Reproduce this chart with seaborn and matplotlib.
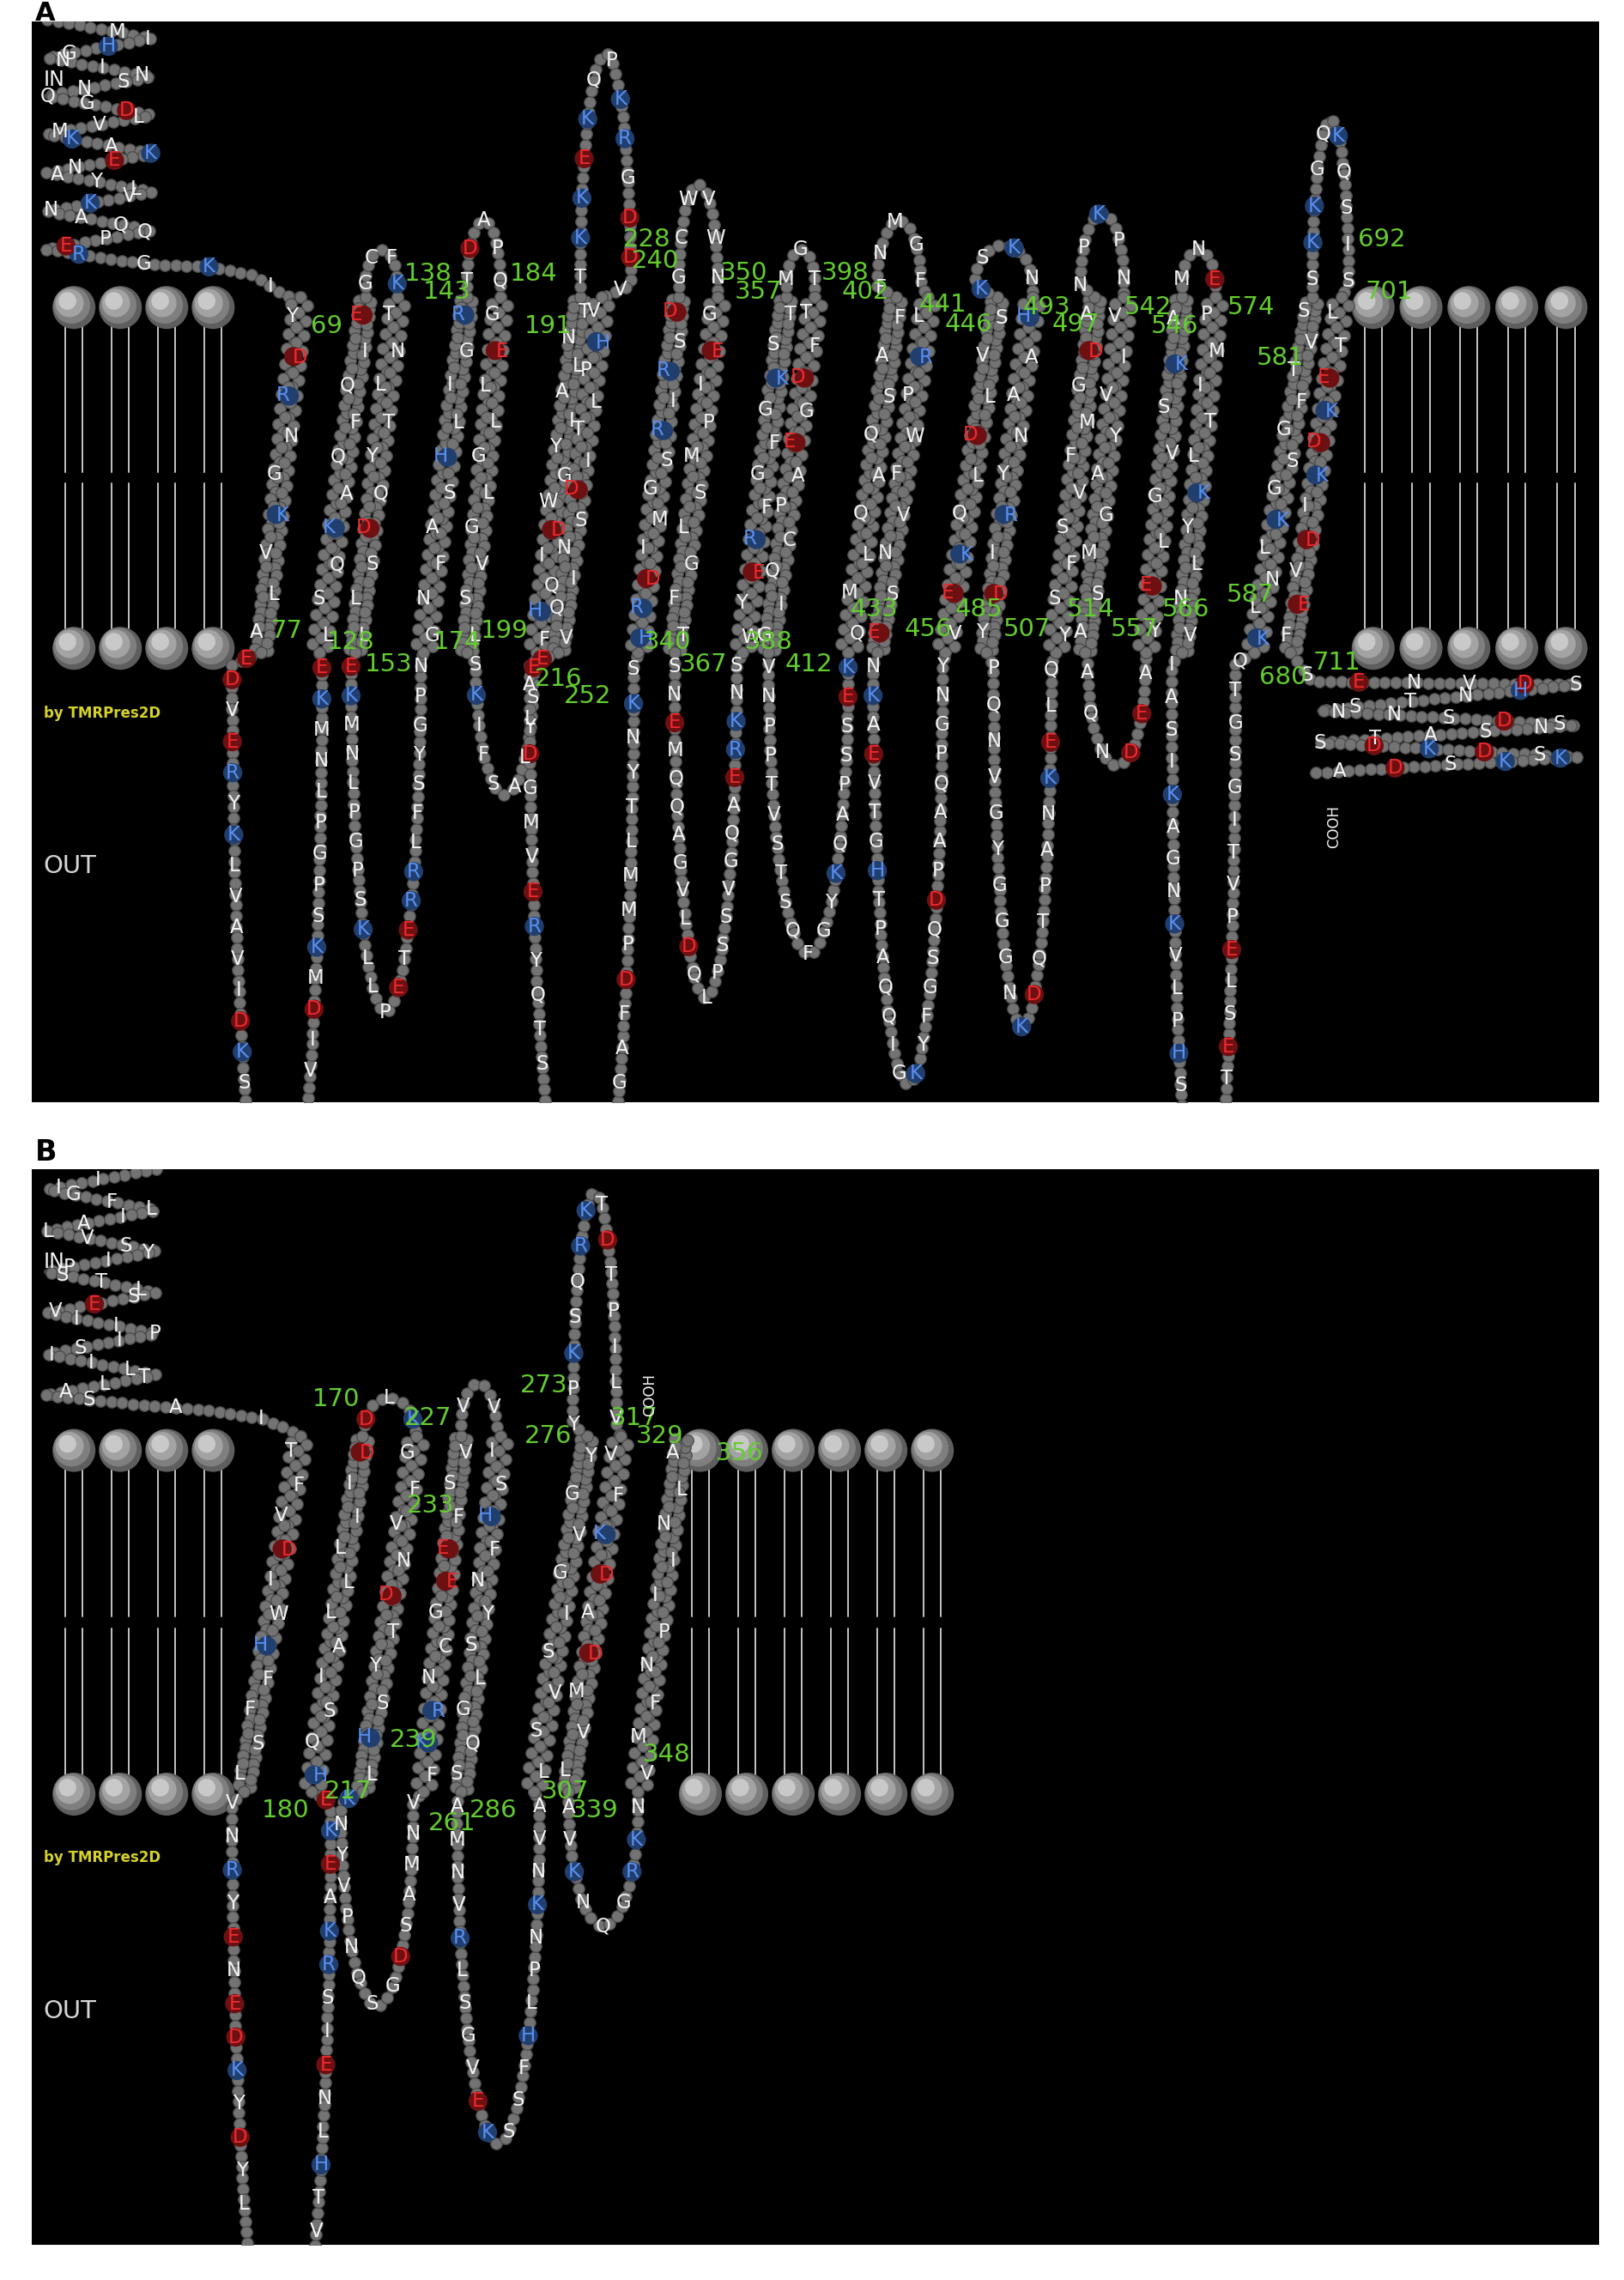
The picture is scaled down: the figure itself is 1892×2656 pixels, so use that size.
import numpy as np
import pandas as pd
import matplotlib
matplotlib.use("Agg")
import matplotlib.pyplot as plt
import seaborn as sns

sns.set_theme(style="dark")
plt.rcParams['font.family'] = ['DejaVu Sans']

# ======================= DATA =======================
# ---- Panel A: transmembrane boundaries (chain order: start, end of each TM)
A_tm_start = [69, 128, 143, 174, 191, 216, 240, 340, 357, 388, 402, 433, 446, 485, 497, 514, 546, 566, 581, 680, 701]
A_tm_end   = [77, 138, 153, 184, 199, 228, 252, 350, 367, 398, 412, 441, 456, 493, 507, 542, 557, 574, 587, 692, 711]
# residue letters (chain direction)
A_nterm = "SYILMIHGNINSNQGDLVMKAKENAYLVKNAQQPE"
A_link = "RGKI"
A_helix = ["YDRNGKVLA", "LSQKAQFQIE", "TNLTYQDSLL", "GNFASHLIGR", "GELLGLGVSL",
           "FHQIDWGYIALNT", "VHPLTIDSNIQV", "HRDIMGSRIRSD", "GEIPMSLGFT", "WYERFGFGKST",
           "TFDGEAPCQIG", "QMLQAQSAF", "LRPWFVNSE", "VEKQLDLVS", "HAANYRIDY",
           "YSFSVFMGDA", "VIVYAGMSA", "YELGVSKA", "PMITLKYLNV", "KLNLKGSGFTVS", "LTEKDKIDVEF"]
A_in_loop = ["GCFK", "TDAPQ", "TKKEKQPKRGDDV", "GCWVWN", "MGT", "FNMGF", "KSKN", "NPKPN", "MNE", "SKKGQKQSIS"]
A_out_loop = ["EDVERYKLVAVIDKSNQTLPEGSAKTFVIDMKSPGPLNMKE",
              "EKMNLPGPSKLLPETERRLFSYGPN",
              "SKIFSALYSE",
              "EALDGMVERYQTSGNLPKEASVTDGAFDPMMLTYNKS",
              "SNEMQQAGVLDQLPSSVGQAERKNS",
              "VNPPTVSTSQFGYKQAPSSEK",
              "NKAEVTGHTPAQQIGKYFGSQDPAAQPGNY",
              "PQNVGYGGGNKDQTPANKELQ",
              "AQNDEA",
              "IASIKAGNKVLPHSTGQNKEAVSLPTESLEPVTIGSGTQ"]
A_cterm = "SENVDSHNTSNNSDSNSATSDKDSKKSDA"

# ---- Panel B
B_tm_start = [170, 217, 233, 261, 276, 307, 329, 348]
B_tm_end   = [180, 227, 239, 273, 286, 317, 339, 356]
B_nterm = "IIIGFLIALVSYIPSTLSEVIIPISIILTLA"
B_link = "SAI"
B_helix = ["TFVDIWHFFSL", "HQSIALLLIID", "GFVNDTYSHL", "FKRNCGEEFSV",
           "ISHFNYSLGQS", "LSVSIGVGY", "VFKDADMVL", "VMFNPIINLA"]
B_in_loop = ["DLK", "VV", "YPKSQRKTDTPILV"]
B_out_loop = ["VNRYENEDKYDYLSGTNPKQESLAVTHLNEISRKAEKE",
              "KNYVPNQSGDSAMNV",
              "AMNVRLSGVEKSSFHLPNKNVA",
              "AVKNQGRKN"]

# ======================= LAYOUT =======================
W, H = 1120.0, 1572.0
A_xt = [207, 252, 274, 322, 345, 400, 415, 468, 495, 542, 562, 618, 640, 688, 712, 755, 775, 815, 838, 905, 925]
A_xb = [180, 220, 245, 292, 322, 370, 385, 440, 465, 512, 530, 585, 605, 652, 680, 728, 748, 790, 815, 865, 890]
A_ytop, A_ybot = 205, 450
A_in_geom = [(252, 274, 25), (322, 345, 45), (400, 435, 160), (468, 495, 70), (542, 562, 25),
             (605, 635, 45), (672, 712, 28), (745, 775, 50), (815, 838, 25), (905, 930, 115)]
A_out_geom = [(160, 222, 420), (242, 290, 240), (328, 368, 90), (365, 437, 420), (465, 508, 230),
              (530, 585, 200), (602, 650, 290), (685, 725, 250), (750, 790, 70), (808, 852, 420)]
A_start_lab = [(225, 225), (242, 443), (308, 201), (315, 443), (378, 225), (385, 468), (452, 180),
               (460, 443), (523, 201), (530, 443), (597, 201), (603, 420), (668, 224), (675, 420),
               (742, 224), (752, 420), (810, 225), (818, 420), (883, 247), (885, 467), (958, 201)]
A_end_lab = [(198, 435), (295, 189), (268, 458), (368, 189), (348, 435), (446, 165), (405, 480),
             (513, 188), (485, 458), (583, 188), (558, 458), (650, 210), (640, 434), (722, 212),
             (708, 434), (792, 212), (782, 434), (863, 212), (862, 410), (953, 165), (922, 457)]

B_xt = [207, 250, 287, 318, 345, 405, 428, 470]
B_xb = [168, 215, 250, 292, 318, 368, 392, 440]
B_ytop, B_ybot = 990, 1235
B_in_geom = [(252, 285, 18), (318, 342, 28), (395, 425, 160)]
B_out_geom = [(160, 228, 420), (235, 285, 140), (315, 372, 235), (392, 440, 85)]
B_start_lab = [(232, 965), (240, 1235), (297, 1038), (312, 1257), (378, 990), (390, 1235), (455, 990), (460, 1210)]
B_end_lab = [(197, 1248), (295, 978), (285, 1200), (375, 955), (340, 1248), (437, 978), (410, 1248), (510, 1002)]

RED, BLUE, WHITE = '#ee2a2e', '#5a8ff0', '#f4f4f4'
DRED, DBLUE = '#6e1012', '#213f6e'
GREEN = '#63cc2f'


def rescolor(c):
    if c in 'DE':
        return RED
    if c in 'KRH':
        return BLUE
    return WHITE


def arch(p0, p1, h, n=60):
    (xs, ys), (xe, ye) = p0, p1
    t = np.linspace(0, 1, n)
    xm = 0.5 * (xs + xe)
    x = xm + (xs - xm) * np.cos(np.pi * t)
    y = ys + (ye - ys) * t - h * np.sin(np.pi * t)
    return list(zip(x, y))


def zigzag(xa, xb, y0, y1, n):
    ys = np.linspace(y0, y1, n)
    xs = [xa if i % 2 == 0 else xb for i in range(n)]
    return list(zip(xs, ys))


def build(xt, xb, ytop, ybot, helix, in_geom, out_geom, in_seq, out_seq):
    segs = []
    nh = len(xt)
    for i in range(nh):
        down = (i % 2 == 0)
        top, bot = (xt[i], ytop), (xb[i], ybot)
        segs.append(([top, bot] if down else [bot, top], helix[i], 'helix'))
        if i < nh - 1:
            if down:
                k = i // 2
                xl, xr, d = out_geom[k]
                pts = [bot] + arch((xl, ybot + 8), (xr, ybot + 8), -d) + [(xb[i + 1], ybot)]
                segs.append((pts, out_seq[k], 'coil'))
            else:
                k = (i - 1) // 2
                xl, xr, h = in_geom[k]
                pts = [top] + arch((xl, ytop - 8), (xr, ytop - 8), h) + [(xt[i + 1], ytop)]
                segs.append((pts, in_seq[k], 'coil'))
    return segs


def sample(p, s, ss):
    x = np.interp(ss, s, p[:, 0])
    y = np.interp(ss, s, p[:, 1])
    a = np.clip(ss + 1.0, 0, s[-1]); b = np.clip(ss - 1.0, 0, s[-1])
    tx = np.interp(a, s, p[:, 0]) - np.interp(b, s, p[:, 0])
    ty = np.interp(a, s, p[:, 1]) - np.interp(b, s, p[:, 1])
    nrm = np.hypot(tx, ty) + 1e-9
    return x, y, -ty / nrm, tx / nrm


def draw_segments(ax, segs, ylo, yhi):
    dots, hl = [], []
    for pts, seq, kind in segs:
        p = np.asarray(pts, float)
        d = np.hypot(np.diff(p[:, 0]), np.diff(p[:, 1]))
        s = np.concatenate([[0], np.cumsum(d)])
        L = s[-1]
        if kind == 'helix':
            ss = np.arange(0, L + 0.01, 5.2)
            x, y, nx, ny = sample(p, s, ss)
            off = 5.5 * np.sin(2 * np.pi * ss / 21.0)
            for sg in (1, -1):
                dots.append(pd.DataFrame({'x': x + sg * off * nx, 'y': y + sg * off * ny}))
        else:
            frac_pos = sum(c in 'KRH' for c in seq) / max(len(seq), 1)
            lc = '#2a4c7a' if frac_pos >= 0.3 else '#4a4a4a'
            ax.plot(p[:, 0], p[:, 1], color=lc, lw=4.5, solid_capstyle='round', zorder=2, alpha=0.9)
            ss = np.arange(0, L + 0.01, 7.5)
            x, y, nx, ny = sample(p, s, ss)
            dots.append(pd.DataFrame({'x': x, 'y': y}))
        n = len(seq)
        sl = (np.arange(n) + 0.5) * L / n
        x, y, nx, ny = sample(p, s, sl)
        for j, c in enumerate(seq):
            o = (4.5 if j % 2 == 0 else -4.5) if kind == 'helix' else 0.0
            xx, yy = x[j] + o * nx[j], y[j] + o * ny[j]
            if yy < ylo + 6 or yy > yhi - 6:
                continue
            col = rescolor(c)
            if col != WHITE:
                hl.append((x[j], y[j], DRED if col == RED else DBLUE))
            ax.text(xx, yy, c, color=col, fontsize=16.5, ha='center', va='center',
                    zorder=6, clip_on=True)
    df = pd.concat(dots, ignore_index=True)
    sns.scatterplot(data=df, x='x', y='y', s=95, color='#737373', edgecolor='#4a4a4a',
                    linewidth=0.9, legend=False, ax=ax, zorder=3)
    if hl:
        h = pd.DataFrame(hl, columns=['x', 'y', 'c'])
        for c, g in h.groupby('c'):
            sns.scatterplot(data=g, x='x', y='y', s=260, color=c, edgecolor='none',
                            legend=False, ax=ax, zorder=4)


def draw_membrane(ax, xs, ytop, ybot):
    ymid = 0.5 * (ytop + ybot)
    for x in xs:
        for dx in (-6, 6):
            ax.plot([x + dx, x + dx], [ytop + 12, ymid - 4], color='#c4c4c4', lw=1.4, zorder=1)
            ax.plot([x + dx, x + dx], [ymid + 4, ybot - 12], color='#c4c4c4', lw=1.4, zorder=1)
    bx = np.array(list(xs) * 2, float)
    by = np.array([ytop] * len(xs) + [ybot] * len(xs), float)
    layers = [(0, 1300, '#5e5e5e'), (1.5, 950, '#7f7f7f'), (3.0, 560, '#a3a3a3'), (4.5, 220, '#c9c9c9')]
    for off, sz, col in layers:
        sns.scatterplot(x=bx - off, y=by - off, s=sz, color=col, edgecolor='none',
                        legend=False, ax=ax, zorder=1.5)


def add_panel(x0, y0, x1, y1):
    ax = fig.add_axes([x0 / W, 1 - y1 / H, (x1 - x0) / W, (y1 - y0) / H])
    ax.set_facecolor('black')
    ax.set_xticks([]); ax.set_yticks([])
    for sp in ax.spines.values():
        sp.set_visible(False)
    ax.grid(False)
    return ax


def finish(ax, x0, y0, x1, y1):
    ax.set_xlabel(''); ax.set_ylabel('')
    ax.set_xticks([]); ax.set_yticks([])
    ax.set_xlim(x0, x1); ax.set_ylim(y1, y0)


fig = plt.figure(figsize=(18.92, 26.56), dpi=100)
fig.patch.set_facecolor('white')

# ----------------------------- Panel A -----------------------------
axA = add_panel(22, 15, 1103, 760)
draw_membrane(axA, [51, 83, 115, 147], 212, 447)
draw_membrane(axA, [947, 980, 1013, 1046, 1080], 212, 447)
segA = [(zigzag(105, 32, 0, 172, 14), A_nterm, 'coil'),
        ([(32, 172), (100, 182), (145, 184), (175, 190), (196, 204), (207, A_ytop)], A_link, 'coil')]
segA += build(A_xt, A_xb, A_ytop, A_ybot, A_helix, A_in_geom, A_out_geom, A_in_loop, A_out_loop)
ct = [(A_xb[-1], A_ybot), (905, 470), (1088, 472), (910, 490), (1088, 500), (910, 512), (1088, 522), (905, 533)]
segA.append((ct, A_cterm, 'coil'))
draw_segments(axA, segA, 15, 760)
for num, (x, y) in zip(A_tm_start + A_tm_end, A_start_lab + A_end_lab):
    axA.text(x, y, str(num), color=GREEN, fontsize=21, ha='center', va='center', zorder=7, clip_on=True)
axA.text(920, 570, 'COOH', color=WHITE, fontsize=12, rotation=90, ha='center', va='center', zorder=7)
axA.text(30, 55, 'IN', color=WHITE, fontsize=17, ha='left', va='center', zorder=7)
axA.text(30, 597, 'OUT', color='#d6d6d6', fontsize=21, ha='left', va='center', zorder=7)
axA.text(30, 492, 'by TMRPres2D', color='#d5d22c', fontsize=12, fontweight='bold',
         ha='left', va='center', zorder=7)
finish(axA, 22, 15, 1103, 760)

# ----------------------------- Panel B -----------------------------
axB = add_panel(22, 806, 1103, 1548)
draw_membrane(axB, [51, 83, 115, 147], 1000, 1237)
draw_membrane(axB, [483, 515, 547, 579, 611, 643], 1000, 1237)
segB = [(zigzag(108, 32, 806, 962, 12), B_nterm, 'coil'),
        ([(32, 962), (90, 968), (140, 972), (180, 978), (198, 985), (207, B_ytop)], B_link, 'coil')]
segB += build(B_xt, B_xb, B_ytop, B_ybot, B_helix, B_in_geom, B_out_geom, B_in_loop, B_out_loop)
draw_segments(axB, segB, 806, 1548)
for num, (x, y) in zip(B_tm_start + B_tm_end, B_start_lab + B_end_lab):
    axB.text(x, y, str(num), color=GREEN, fontsize=21, ha='center', va='center', zorder=7, clip_on=True)
axB.text(448, 962, 'COOH', color=WHITE, fontsize=12, rotation=90, ha='center', va='center', zorder=7)
axB.text(30, 870, 'IN', color=WHITE, fontsize=17, ha='left', va='center', zorder=7)
axB.text(30, 1387, 'OUT', color='#d6d6d6', fontsize=21, ha='left', va='center', zorder=7)
axB.text(30, 1281, 'by TMRPres2D', color='#d5d22c', fontsize=12, fontweight='bold',
         ha='left', va='center', zorder=7)
finish(axB, 22, 806, 1103, 1548)

fig.text(24 / W, 1 - 14 / H, 'A', fontsize=22, fontweight='bold', color='black', ha='left', va='baseline')
fig.text(24 / W, 1 - 800 / H, 'B', fontsize=24, fontweight='bold', color='black', ha='left', va='baseline')

fig.savefig('out.png', dpi=100, facecolor='white')
